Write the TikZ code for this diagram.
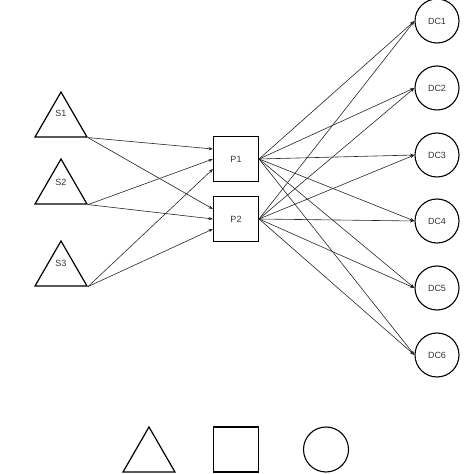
\documentclass[tikz,border=0pt]{standalone}
\usepackage{fontspec}
\setmainfont{Liberation Sans}
\usetikzlibrary{arrows.meta,shapes.geometric}

\begin{document}
\begin{tikzpicture}[>={Stealth[length=4.5pt,width=3.2pt]}, x=1pt, y=1pt,
    sorgente/.style={draw, regular polygon, regular polygon sides=3,
        minimum size=60pt, inner sep=0pt, line width=1.2pt},
    impianto/.style={draw, rectangle, minimum width=45pt,
        minimum height=45pt, inner sep=0pt, line width=1.1pt},
    centro/.style={draw, circle, minimum size=44pt, inner sep=0pt,
        line width=1.1pt},
    freccia/.style={->, line width=0.6pt, black!85},
    etichetta/.style={font=\fontsize{9}{10}\selectfont, text=black!80}]

    \useasboundingbox (0,0) rectangle (474,474);

    % Sorgenti
    \node[sorgente] (s1) at (61,352) {};
    \node[sorgente] (s2) at (61,285) {};
    \node[sorgente] (s3) at (61,203) {};
    \node[etichetta] (s1-lab) at (61,361) {S1};
    \node[etichetta] (s2-lab) at (61,292) {S2};
    \node[etichetta] (s3-lab) at (61,211) {S3};

    % Impianti
    \node[impianto, etichetta] (p1) at (236,315) {P1};
    \node[impianto, etichetta] (p2) at (236,255) {P2};

    % Centri di distribuzione
    \foreach \k/\y in {1/453, 2/386, 3/319, 4/253, 5/186, 6/119}
        \node[centro, etichetta] (dc\k) at (437,\y) {DC\k};

    % Archi sorgenti -> impianti
    \foreach \src/\dy in {s1/10, s2/0, s3/-10} {
        \draw[freccia] (\src.corner 3) -- ([yshift=\dy pt]p1.west);
        \draw[freccia] (\src.corner 3) -- ([yshift=\dy pt]p2.west);
    }

    % Archi impianti -> centri
    \foreach \p in {p1, p2}
        \foreach \k in {1,...,6}
            \draw[freccia] (\p.east) -- (dc\k.west);

    % Legenda
    \node[sorgente] (leg-s) at (149,17) {};
    \node[impianto] (leg-p) at (236,24.5) {};
    \node[centro, minimum size=45pt] (leg-dc) at (326,24.5) {};

\end{tikzpicture}
\end{document}
